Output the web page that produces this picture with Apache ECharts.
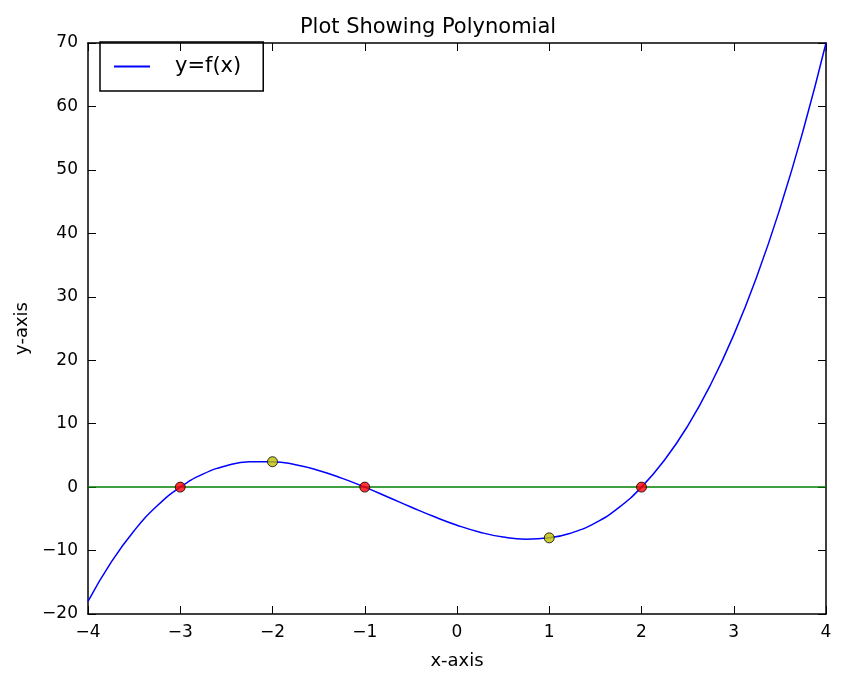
<!DOCTYPE html>
<html><head><meta charset="utf-8">
<script src="https://cdn.jsdelivr.net/npm/echarts@6/dist/echarts.min.js"></script>
<style>body{margin:0}#c{width:856px;height:685px}</style></head>
<body><div id="c"></div>
<script>
const xs = [-4,-3.75,-3.5,-3.25,-3,-2.75,-2.5,-2.25,-2,-1.75,-1.5,-1.25,-1,-0.75,-0.5,-0.25,0,0.25,0.5,0.75,1,1.25,1.5,1.75,2,2.25,2.5,2.75,3,3.25,3.5,3.75,4];
const ys = [-18,-11.86,-6.875,-2.95,0,2.08,3.375,3.98,4,3.52,2.625,1.42,0,-1.55,-3.125,-4.64,-6,-7.11,-7.875,-8.2,-8,-7.17,-5.625,-3.27,0,4.27,9.625,16.17,24,33.2,43.875,56.1,70];
const rootsPts = [[-3,0],[-1,0],[2,0]];
const extremaPts = [[-2,4],[1,-8]];
const zeroLine = [[-4,0],[4,0]];
const font = 'DejaVu Sans';
const chart = echarts.init(document.getElementById('c'));
const tickIn = {show:true,inside:true,length:8,lineStyle:{color:'#000'}};
const lineS = {show:true,onZero:false,lineStyle:{color:'#000',width:1.5}};
const fmt = v=>String(v).replace('-','\u2212');
chart.setOption({
  animation:false,
  title:{text:'Plot Showing Polynomial',left:'center',top:12,textStyle:{fontFamily:font,fontSize:21,fontWeight:'normal',color:'#000'}},
  legend:{data:['y=f(x)'],left:100,top:42,orient:'vertical',borderColor:'#000',borderWidth:1.5,borderRadius:0,padding:[14,22,14,14],itemWidth:36,itemHeight:2,icon:'rect',textStyle:{fontFamily:font,fontSize:21,color:'#000',padding:[0,0,0,20]}},
  grid:{left:88,right:30,top:43,bottom:71},
  xAxis:[{type:'value',min:-4,max:4,interval:1,name:'x-axis',nameLocation:'middle',nameGap:38,nameTextStyle:{fontFamily:font,fontSize:18,color:'#000'},
    axisLine:lineS,axisTick:tickIn,splitLine:{show:false},
    axisLabel:{fontFamily:font,fontSize:17,color:'#000',margin:10,formatter:fmt}},
    {type:'value',position:'top',min:-4,max:4,interval:1,axisLine:lineS,axisTick:tickIn,axisLabel:{show:false},splitLine:{show:false}}],
  yAxis:[{type:'value',min:-20,max:70,interval:10,name:'y-axis',nameLocation:'middle',nameGap:52,nameTextStyle:{fontFamily:font,fontSize:18,color:'#000'},
    axisLine:lineS,axisTick:tickIn,splitLine:{show:false},
    axisLabel:{fontFamily:font,fontSize:17,color:'#000',margin:10,formatter:fmt}},
    {type:'value',position:'right',min:-20,max:70,interval:10,axisLine:lineS,axisTick:tickIn,axisLabel:{show:false},splitLine:{show:false}}],
  series:[
    {name:'y=f(x)',type:'line',smooth:true,showSymbol:false,data:xs.map((x,i)=>[x,ys[i]]),lineStyle:{color:'#0000ff',width:1.5},itemStyle:{color:'#0000ff'},z:3},
    {type:'line',data:zeroLine,showSymbol:false,lineStyle:{color:'#008000',width:1.5},z:2},
    {type:'scatter',data:rootsPts,symbolSize:10,itemStyle:{color:'#ff0000',borderColor:'#000',borderWidth:1},z:5},
    {type:'scatter',data:extremaPts,symbolSize:10,itemStyle:{color:'#bfbf00',borderColor:'#000',borderWidth:1},z:5}
  ]
});
</script></body></html>
